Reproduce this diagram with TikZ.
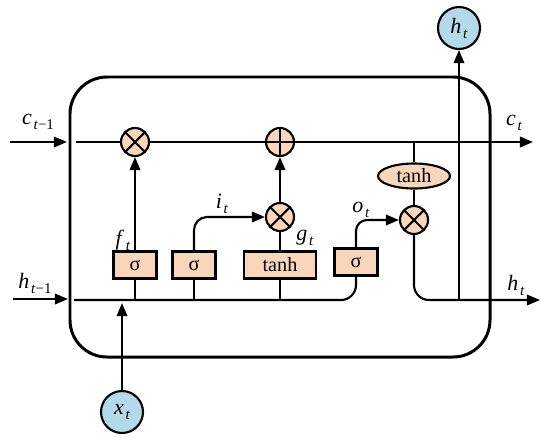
\documentclass[tikz,border=0pt]{standalone}
\usepackage{fontspec}
\setmainfont{Liberation Serif}
\usetikzlibrary{arrows.meta,shapes.geometric}
\definecolor{peach}{RGB}{249,213,185}
\definecolor{lblue}{RGB}{178,218,232}
\newcommand{\lbl}[2]{\fontsize{12.5}{14}\selectfont\textit{#1}\kern0.08em\raisebox{-0.5ex}{\fontsize{8.5}{10}\selectfont #2}}
\begin{document}
\begin{tikzpicture}[x=0.02cm,y=-0.02cm,line width=1.2pt,
  >={Triangle[length=7.5pt,width=6pt]},
  times/.style={circle,draw,fill=peach,minimum size=0.56cm,inner sep=0pt,
    path picture={\draw[line width=1.2pt] (path picture bounding box.north east) -- (path picture bounding box.south west)
      (path picture bounding box.north west) -- (path picture bounding box.south east);}},
  plus/.style={circle,draw,fill=peach,minimum size=0.56cm,inner sep=0pt,
    path picture={\draw[line width=1.2pt] (path picture bounding box.north) -- (path picture bounding box.south)
      (path picture bounding box.west) -- (path picture bounding box.east);}},
  gate/.style={rectangle,draw,fill=peach,minimum width=0.86cm,minimum height=0.54cm,inner sep=0pt,font=\fontsize{11.5}{13}\selectfont},
  wgate/.style={gate,minimum width=1.44cm},
  egate/.style={ellipse,draw,fill=peach,minimum width=1.44cm,minimum height=0.5cm,inner sep=0pt,font=\fontsize{11.5}{13}\selectfont},
  io/.style={circle,draw,fill=lblue,minimum size=0.84cm,inner sep=0pt},
  lab/.style={inner sep=0pt}]
\useasboundingbox (0,0) rectangle (550,440);
% outer cell
\draw[line width=1.7pt,rounded corners=0.74cm] (70,77) rectangle (490,357);
% nodes
\node[times] (mf) at (135,142) {};
\node[plus]  (pa) at (280,142) {};
\node[times] (mi) at (280,217) {};
\node[times] (mo) at (414,220) {};
\node[gate]  (sf) at (135,265) {σ};
\node[gate]  (si) at (194,265) {σ};
\node[wgate] (tg) at (280,265) {tanh};
\node[gate]  (so) at (356,262) {σ};
\node[egate] (th) at (414,176) {tanh};
\node[io] (xt) at (122,412) {\lbl{x}{\textit{t}}};
\node[io] (ht) at (459,28) {\lbl{h}{\textit{t}}};
% coordinates
\coordinate (cl0) at (10,142);
\coordinate (cl1) at (67,142);
\coordinate (cin) at (76,142);
\coordinate (cout) at (533,142);
\coordinate (ctap) at (414,142);
\coordinate (hl0) at (13,299);
\coordinate (hl1) at (68,299);
\coordinate (hin) at (74,300);
\coordinate (hout) at (540,300);
\coordinate (hj) at (459,300);
\coordinate (xj) at (122,303);
% cell state line
\draw[->] (cl0) -- (cl1);
\draw (cin) -- (mf);
\draw (mf) -- (pa);
\draw[->] (pa) -- (cout);
% hidden input line
\draw[->] (hl0) -- (hl1);
\draw[rounded corners=0.3cm] (hin) -- (so.south |- hin) -- (so.south);
\draw (sf.south) -- (sf.south |- hin);
\draw (si.south) -- (si.south |- hin);
\draw (tg.south) -- (tg.south |- hin);
% gates
\draw[->] (sf) -- (mf);
\draw[->,rounded corners=0.26cm] (si.north) -- (si.north |- mi) -- (mi);
\draw (tg) -- (mi);
\draw[->] (mi) -- (pa);
\draw[->,rounded corners=0.22cm] (so.north) -- (so.north |- mo) -- (mo);
\draw (ctap) -- (th);
\draw (th) -- (mo);
\draw[->,rounded corners=0.3cm] (mo) -- (mo |- hout) -- (hout);
\draw[->] (hj) -- (ht);
\draw[->] (xt) -- (xj);
% labels
\node[lab] (lc0) at (38,122) {\lbl{c}{\textit{t}−1}};
\node[lab] (lh0) at (35,283) {\lbl{h}{\textit{t}−1}};
\node[lab] (lct) at (514,123) {\lbl{c}{\textit{t}}};
\node[lab] (lht) at (516,285) {\lbl{h}{\textit{t}}};
\node[lab] (lf) at (123,240) {\lbl{f}{\textit{t}}};
\node[lab] (li) at (222,204) {\lbl{i}{\textit{t}}};
\node[lab] (lg) at (305,238) {\lbl{g}{\textit{t}}};
\node[lab] (lo) at (361,210) {\lbl{o}{\textit{t}}};
\end{tikzpicture}
\end{document}
